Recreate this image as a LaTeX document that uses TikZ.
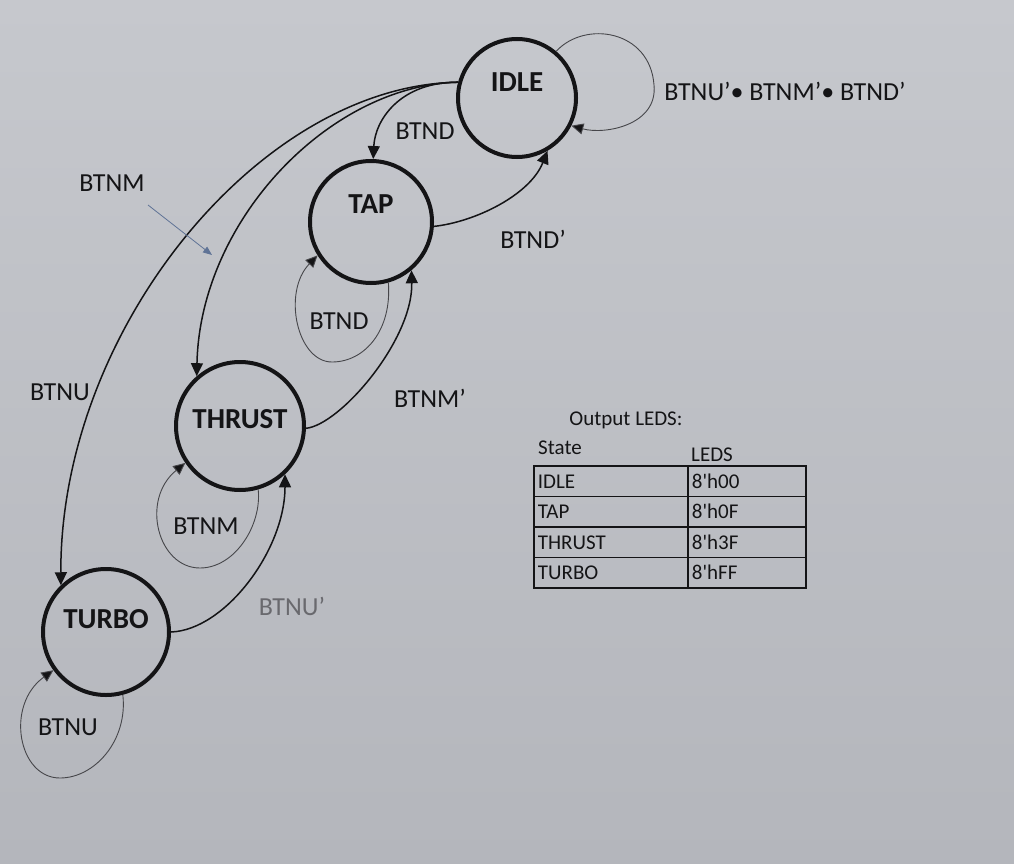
\documentclass[tikz,border=0pt]{standalone}
\usepackage{fontspec}
\setmainfont{Carlito}
\usetikzlibrary{arrows.meta}
\definecolor{papertop}{RGB}{198,200,205}
\definecolor{paperbot}{RGB}{180,182,188}
\definecolor{ink}{RGB}{20,20,22}
\definecolor{loopink}{RGB}{70,70,74}
\definecolor{fadeink}{RGB}{105,105,110}
\definecolor{bluenote}{RGB}{95,115,150}
\newcommand{\statefont}{\fontsize{29}{33}\selectfont\bfseries}
\newcommand{\labfont}{\fontsize{26}{30}\selectfont}
\newcommand{\tabfont}{\fontsize{21}{25}\selectfont}
\begin{document}
\begin{tikzpicture}[x=1pt,y=-1pt,
  state/.style={circle, draw=ink, line width=4pt, inner sep=0pt, font=\statefont, text=ink, text height=4pt},
  edge/.style={draw=ink, line width=1.5pt, -{Triangle[length=13pt,width=12pt]}},
  loopedge/.style={draw=loopink, line width=0.9pt, -{Triangle[length=12pt,width=11pt,fill=ink]}},
  lab/.style={font=\labfont, text=ink, inner sep=0pt},
  cell/.style={draw=ink, line width=1.8pt, anchor=north west, minimum height=30.5pt, inner sep=4pt, font=\tabfont, text=ink, text height=14pt, text depth=0pt, align=left},
  head/.style={font=\tabfont, text=ink, inner sep=0pt}]
\shade[top color=papertop, bottom color=paperbot] (0,0) rectangle (1014,864);
\useasboundingbox (0,0) rectangle (1014,864);

% states
\node[state, minimum size=118pt, text depth=16pt] (idle) at (517,98) {IDLE};
\node[state, minimum size=122pt, text depth=22pt] (tap) at (371,222) {TAP};
\node[state, minimum size=128pt, text depth=0pt] (thrust) at (240,426) {THRUST};
\node[state, minimum size=126pt, text depth=12pt] (turbo) at (106,632) {TURBO};

% transitions
\draw[edge] (idle.165) .. controls (400,82) and (375,120) .. (tap.88);
\draw[edge] (idle.165) .. controls (330,85) and (200,220) .. (thrust.131);
\draw[edge] (idle.165) .. controls (260,85) and (60,330) .. (turbo.134);
\draw[edge] (tap.-4) .. controls (475,222) and (530,195) .. (idle.-60);
\draw[edge] (thrust.-2) .. controls (340,425) and (413,340) .. (tap.-50);
\draw[edge] (turbo.0) .. controls (225,630) and (285,550) .. (thrust.-47);

% self loops
\draw[loopedge] (idle.50) .. controls (585,20) and (650,30) .. (654,85) .. controls (658,125) and (605,135) .. (idle.-27);
\draw[loopedge] (tap.-74) .. controls (392,330) and (365,362) .. (332,362) .. controls (297,362) and (282,292) .. (tap.-148);
\draw[loopedge] (thrust.-74) .. controls (262,525) and (235,568) .. (200,568) .. controls (158,568) and (140,500) .. (thrust.-146);
\draw[loopedge] (turbo.-75) .. controls (128,740) and (95,778) .. (60,778) .. controls (18,778) and (5,705) .. (turbo.-144);

% labels
\node[lab] (lidle) at (785,91) {BTNU’• BTNM’• BTND’};
\node[lab] (ltap) at (425,131) {BTND};
\node[lab] (ltapidle) at (533,239) {BTND’};
\node[lab] (ltaploop) at (339,321) {BTND};
\node[lab] (lthrusttap) at (430,398) {BTNM’};
\node[lab] (lbtnm) at (112,183) {BTNM};
\node[lab] (lbtnu) at (60,392) {BTNU};
\node[lab] (lthrustloop) at (206,526) {BTNM};
\node[lab, text=fadeink] (lturbothrust) at (292,606) {BTNU’};
\node[lab] (lturboloop) at (68,727) {BTNU};

% blue pointer from BTNM label to its transition
\coordinate (bluestart) at (148,205);
\coordinate (bluetip) at (212,255);
\draw[draw=bluenote, line width=0.8pt, -{Triangle[length=9pt,width=7pt]}] (bluestart) -- (bluetip);

% output table
\node[head] (thead) at (626,420) {Output LEDS:};
\node[head] (hstate) at (560,448) {State};
\node[head] (hleds) at (712,455) {LEDS};
\node[cell, text width=146pt] (c1a) at (533,465) {IDLE};
\node[cell, text width=110pt] (c1b) at (687,465) {8\textquotesingle h00};
\node[cell, text width=146pt] (c2a) at (533,495.5) {TAP};
\node[cell, text width=110pt] (c2b) at (687,495.5) {8\textquotesingle h0F};
\node[cell, text width=146pt] (c3a) at (533,526) {THRUST};
\node[cell, text width=110pt] (c3b) at (687,526) {8\textquotesingle h3F};
\node[cell, text width=146pt] (c4a) at (533,556.5) {TURBO};
\node[cell, text width=110pt] (c4b) at (687,556.5) {8\textquotesingle hFF};
\end{tikzpicture}
\end{document}
